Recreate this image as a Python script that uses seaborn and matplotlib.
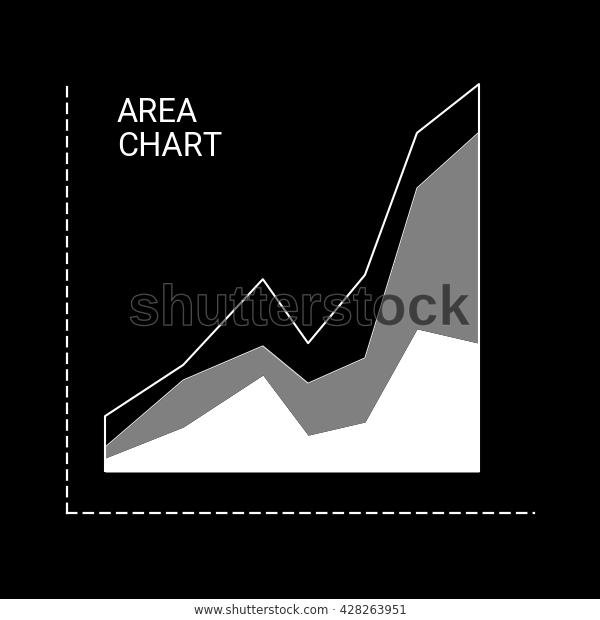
import numpy as np
import pandas as pd
import matplotlib
matplotlib.use("Agg")
import matplotlib.pyplot as plt
import matplotlib.patheffects as pe
import seaborn as sns

# x positions of the points and the three stacked layers
x_pos = [0, 2.09, 4.22, 5.43, 6.95, 8.34, 10]
white_layer = [0.36, 1.16, 2.50, 0.95, 1.29, 3.69, 3.32]
gray_layer = [0.28, 1.21, 0.75, 1.34, 1.65, 3.63, 5.44]
black_layer = [0.80, 0.39, 1.72, 1.03, 2.14, 1.42, 1.24]

title_lines = ["AREA", "CHART"]
footer = "www.shutterstock.com \u00b7 428263951"

df = pd.DataFrame({"x": x_pos, "white": white_layer, "gray": gray_layer, "black": black_layer})
df["gray_top"] = df["white"] + df["gray"]
df["black_top"] = df["gray_top"] + df["black"]

sns.set_style("white")
plt.rcParams['font.family'] = ['Roboto', 'DejaVu Sans']

fig = plt.figure(figsize=(6, 6.2), dpi=100)
fig.patch.set_facecolor("white")

# black panel
bg = fig.add_axes([0, 21 / 620, 1, 599 / 620])
bg.set_facecolor("black")
bg.set_xticks([])
bg.set_yticks([])
for s in bg.spines.values():
    s.set_visible(False)

# chart axes (dashed left/bottom spines)
ax = fig.add_axes([66.5 / 600, 107 / 620, 467.5 / 600, 427 / 620])
ax.patch.set_alpha(0)
ax.set_xlim(-1.03, 11.47)
ax.set_ylim(-1.057, 9.95)
for side in ["top", "right"]:
    ax.spines[side].set_visible(False)
for side in ["left", "bottom"]:
    ax.spines[side].set_color("white")
    ax.spines[side].set_linewidth(1.6)
    ax.spines[side].set_linestyle((0, (4.2, 3.3)))
ax.set_xticks([])
ax.set_yticks([])

ax.fill_between(df["x"], 0, df["white"], color="white", lw=0, zorder=2)
ax.fill_between(df["x"], df["white"], df["gray_top"], color="#808080", lw=0, zorder=2)

sns.lineplot(data=df, x="x", y="gray_top", ax=ax, color="#e6e6e6", lw=0.8,
             sort=False, zorder=3, clip_on=False)
sns.lineplot(data=df, x="x", y="black_top", ax=ax, color="white", lw=1.5,
             sort=False, zorder=4, clip_on=False)
ax.vlines([df["x"].iloc[0]], 0, df["black_top"].iloc[0], color="white", lw=1.5, zorder=4)
ax.vlines([df["x"].iloc[-1]], 0, df["black_top"].iloc[-1], color="white", lw=1.5,
          zorder=4, clip_on=False)
ax.set_xlabel("")
ax.set_ylabel("")

# watermark
ax.text(5.2, 3.79, "shutterstock", ha="center", va="baseline", fontsize=41,
        fontweight="bold", color=(0, 0, 0, 0.3), family=["Liberation Sans", "DejaVu Sans"],
        zorder=5,
        path_effects=[pe.withStroke(linewidth=1.0, foreground=(0.6, 0.6, 0.6, 0.55))])

fig.text(117 / 600, 1 - 122 / 620, title_lines[0], color="white", fontsize=23.5, va="baseline")
fig.text(117 / 600, 1 - 156 / 620, title_lines[1], color="white", fontsize=23.5, va="baseline")

fig.text(0.5, 10 / 620, footer, ha="center", va="center", fontsize=8.5,
         color="#333333", family=["DejaVu Sans"])

fig.savefig("out.png", dpi=100, facecolor=fig.get_facecolor())
